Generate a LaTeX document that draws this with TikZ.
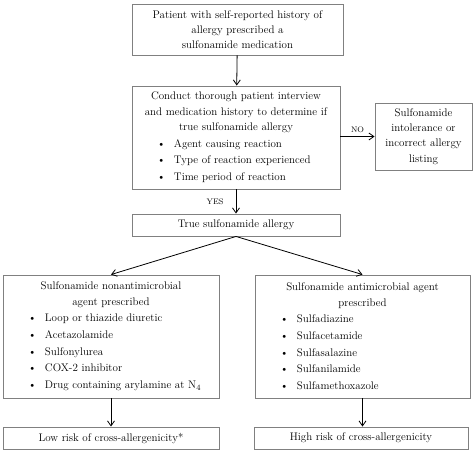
\documentclass[tikz,border=0pt]{standalone}
\usepackage{amsmath}
\usepackage{tikz}
\usetikzlibrary{positioning,arrows.meta}

\newcommand{\blt}[1]{\par\vspace{1.4pt}\hspace*{22pt}\makebox[17pt][l]{\textbullet}#1}

\begin{document}
\begin{tikzpicture}[x=1pt,y=-1pt,
	box/.style={draw=black!50,line width=0.9pt,inner xsep=3pt,inner ysep=2pt,
		font=\fontsize{11}{15.3}\selectfont},
	flow/.style={-{Straight Barb[length=5pt,width=7pt]},black,line width=0.8pt},
	lbl/.style={font=\footnotesize,inner sep=2pt}]
	\useasboundingbox (0,0) rectangle (474,452);
	% top of the chart
	\node[box,minimum width=211pt,minimum height=51pt,align=center] (hist) at (237.5,29.5)
		{Patient with self-reported history of\\allergy prescribed a\\sulfonamide medication};
	\node[box,minimum width=208pt,minimum height=103pt,text width=202pt] (intv) at (236,137.5)
		{{\centering Conduct thorough patient interview\\and medication history to determine if\\true sulfonamide allergy\par}%
		\blt{Agent causing reaction}\blt{Type of reaction experienced}\blt{Time period of reaction}};
	\node[box,minimum width=97pt,minimum height=67pt,align=center] (intol) at (423.5,136.5)
		{Sulfonamide\\intolerance or\\incorrect allergy\\listing};
	\node[box,minimum width=208pt,minimum height=22pt] (true) at (236,225) {True sulfonamide allergy};
	% the two branches
	\node[box,minimum width=216pt,minimum height=123pt,text width=210pt] (nonab) at (111,336.5)
		{{\centering Sulfonamide nonantimicrobial\\agent prescribed\par}%
		\blt{Loop or thiazide diuretic}\blt{Acetazolamide}\blt{Sulfonylurea}%
		\blt{COX-2 inhibitor}\blt{Drug containing arylamine at N$_4$}};
	\node[box,minimum width=215pt,minimum height=123pt,text width=209pt] (ab) at (362.5,336.5)
		{{\centering Sulfonamide antimicrobial agent\\prescribed\par}%
		\blt{Sulfadiazine}\blt{Sulfacetamide}\blt{Sulfasalazine}%
		\blt{Sulfanilamide}\blt{Sulfamethoxazole}};
	\node[box,minimum width=216pt,minimum height=22pt] (low) at (111,438) {Low risk of cross-allergenicity*};
	\node[box,minimum width=214pt,minimum height=22pt] (high) at (361,438) {High risk of cross-allergenicity};
	% connectors
	\draw[flow] (hist) -- (intv);
	\draw[flow] (intv.east |- intol.west) -- node[lbl,above=1pt] {NO} (intol.west);
	\draw[flow] (intv) -- node[lbl,left=10pt] {YES} (true);
	\draw[flow] (true.south) -- (nonab.north);
	\draw[flow] (true.south) -- (ab.north);
	\draw[flow] (nonab) -- (low);
	\draw[flow] (ab.south) -- (ab.south |- high.north);
\end{tikzpicture}
\end{document}
